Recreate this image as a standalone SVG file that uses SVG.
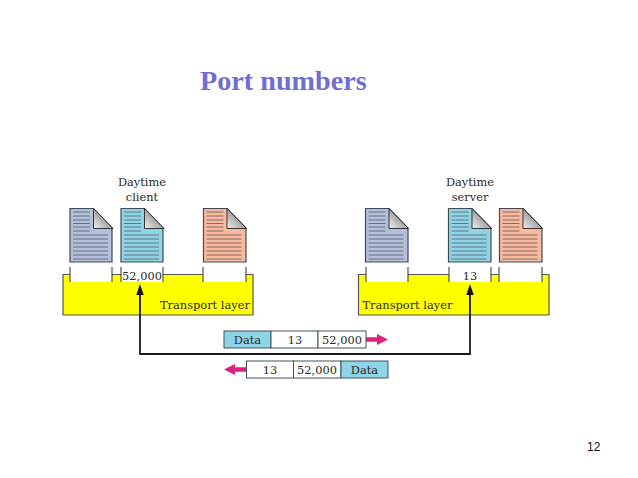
<svg xmlns="http://www.w3.org/2000/svg" xmlns:xlink="http://www.w3.org/1999/xlink" width="638" height="478" viewBox="0 0 638 478">
<style>
.t{font-family:"DejaVu Serif","Liberation Serif",serif;font-size:11.400px;fill:#2a2a2a}
.m{text-anchor:middle}
.y{fill:#ffff00;stroke:none}
.yo{fill:none;stroke:#555;stroke-width:1.2}
.tick{stroke:#444;stroke-width:1.1;fill:none}
.l{stroke:#4a4a4a;stroke-width:.8;fill:none;opacity:.85}
.page{stroke:#3f4a55;stroke-width:1.2}
.cell{fill:#fff;stroke:#3f5560;stroke-width:1}
.blue{fill:#8fd3e6;stroke:#3f5560;stroke-width:1}
.conn{stroke:#1a1a1a;stroke-width:1.8;fill:none}
.pink{stroke:#e0207c;stroke-width:4.500;fill:none}
</style>
<defs>
<linearGradient id="fg" x1="0" y1="1" x2="1" y2="0"><stop offset="0" stop-color="#f2f2f2"/><stop offset="1" stop-color="#555"/></linearGradient>
<g id="ln"><path class="l" d="M3 19H20M3 23H20M3 27H38M3 31H38M3 35H38M3 39H38M3 43H38M3 47H38M3 51H38"/><path class="l" d="M3 4H20M3 8H20M3 12H20M3 15.500H20"/></g>
<g id="fold"><path d="M23.500 0V20H43Z" fill="url(#fg)" stroke="#333" stroke-width="1"/></g>
</defs>
<text x="200" y="90" font-family="Liberation Serif,serif" font-weight="bold" font-size="28.200" fill="#6f6fd3">Port numbers</text>

<g id="client-layer">
<path class="y" d="M63 274.500H70V282H112V274.500H121V282H163V274.500H203V282H246V274.500H253V315H63Z"/>
<path class="yo" d="M70 274.500H63V315H253V274.500H246M203 274.500H163M121 274.500H112"/>
<path class="tick" d="M70 267V282M112 267V282M121 267V282M163 267V282M203 267V282M246 267V282"/>
<text class="t m" x="142" y="280">52,000</text>
<text class="t" x="160" y="309">Transport layer</text>
</g>
<g id="server-layer">
<path class="y" d="M358.500 274.500H366V282H408V274.500H449V282H491V274.500H499V282H542V274.500H549V315H358.500Z"/>
<path class="yo" d="M366 274.500H358.500V315H549V274.500H542M499 274.500H491M449 274.500H408"/>
<path class="tick" d="M366 267V282M408 267V282M449 267V282M491 267V282M499 267V282M542 267V282"/>
<text class="t m" x="470" y="280">13</text>
<text class="t" x="362.500" y="309">Transport layer</text>
</g>

<g id="client-doc-1"><path class="page" fill="#b3bfdd" d="M70 208.500H93.500L112 228V262H70Z"/><use xlink:href="#ln" x="70" y="208"/><use xlink:href="#fold" x="70" y="208.500"/></g>
<g id="client-doc-2"><path class="page" fill="#8fd3e6" d="M121 208.500H144.500L163 228V262H121Z"/><use xlink:href="#ln" x="121" y="208"/><use xlink:href="#fold" x="121" y="208.500"/>
<text class="t m" x="142" y="186">Daytime</text><text class="t m" x="142" y="201">client</text></g>
<g id="client-doc-3"><path class="page" fill="#f9b99f" d="M203.500 208.500H227L246 228V262H203.500Z"/><use xlink:href="#ln" x="203.500" y="208"/><use xlink:href="#fold" x="203.500" y="208.500"/></g>
<g id="server-doc-1"><path class="page" fill="#b3bfdd" d="M365.500 208.500H389L408 228V262H365.500Z"/><use xlink:href="#ln" x="365.500" y="208"/><use xlink:href="#fold" x="365.500" y="208.500"/></g>
<g id="server-doc-2"><path class="page" fill="#8fd3e6" d="M448.500 208.500H472L491 228V262H448.500Z"/><use xlink:href="#ln" x="448.500" y="208"/><use xlink:href="#fold" x="448.500" y="208.500"/>
<text class="t m" x="470" y="186">Daytime</text><text class="t m" x="470" y="201">server</text></g>
<g id="server-doc-3"><path class="page" fill="#f9b99f" d="M499.500 208.500H523L542 228V262H499.500Z"/><use xlink:href="#ln" x="499.500" y="208"/><use xlink:href="#fold" x="499.500" y="208.500"/></g>

<g id="connectors">
<path class="conn" d="M140 295V354H470V295"/>
<path fill="#111" d="M140 284L136.300 295H143.700Z"/>
<path fill="#111" d="M470 284L466.300 295H473.700Z"/>
<path class="pink" d="M366 339.500H379"/><path fill="#e0207c" d="M388 339.500L377 334V345Z"/>
<path class="pink" d="M246 369.500H233"/><path fill="#e0207c" d="M224 369.500L235 364V375Z"/>
</g>

<g id="packet-out">
<rect class="blue" x="224" y="331" width="47" height="17"/><rect class="cell" x="271" y="331" width="47" height="17"/><rect class="cell" x="318" y="331" width="48" height="17"/>
<text class="t m" x="247.500" y="344">Data</text><text class="t m" x="295" y="344">13</text><text class="t m" x="342" y="344">52,000</text>
</g>
<g id="packet-back">
<rect class="cell" x="246.500" y="361" width="47" height="17"/><rect class="cell" x="293.500" y="361" width="47.500" height="17"/><rect class="blue" x="341" y="361" width="47" height="17"/>
<text class="t m" x="270" y="374">13</text><text class="t m" x="317" y="374">52,000</text><text class="t m" x="364.500" y="374">Data</text>
</g>
<text x="587" y="451" font-family="Liberation Sans,sans-serif" font-size="12" fill="#111">12</text>
</svg>
